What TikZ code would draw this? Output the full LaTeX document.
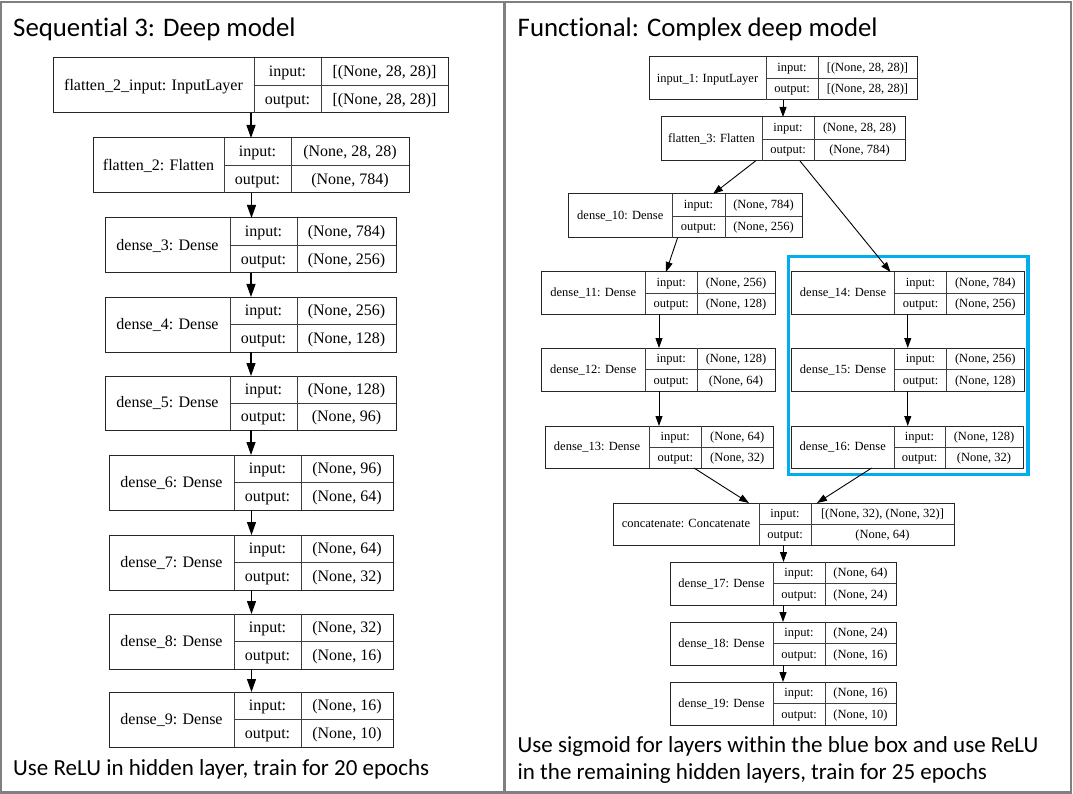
\documentclass[tikz,border=0pt]{standalone}
\usepackage{fontspec}
\setmainfont{Carlito}[Ligatures={NoCommon}]
\newfontfamily\gv{Liberation Serif}
\usetikzlibrary{arrows.meta,fit}
\definecolor{frame}{HTML}{808080}
\definecolor{bluebox}{HTML}{00AEEF}
\newcommand\recsize{16}
\newcommand\rec[8]{%
  \node[rbox, fit={(#2,#6)(#5,#7)}] (#1) {};
  \pgfmathsetmacro\tmpym{(#6+#7)/2}%
  \xdef\rym{\tmpym}\xdef\rname{#1}\xdef\rxa{#3}\xdef\rxb{#4}\xdef\rxB{#5}%
  \xdef\ryA{#6}\xdef\ryB{#7}%
  \draw[rline] (#3,#6) -- (#3,#7) (#4,#6) -- (#4,#7) (#3,\rym) -- (#5,\rym);
  \node[lab] (#1-n) at ({(#2+#3)/2},{\rym+0.3*\recsize}) {#8};
}
\newcommand\io[2]{%
  \node[lab] (\rname-i) at ({(\rxa+\rxb)/2},{(\ryA+\rym)/2+0.3*\recsize}) {input:};
  \node[lab] (\rname-o) at ({(\rxa+\rxb)/2},{(\rym+\ryB)/2+0.3*\recsize}) {output:};
  \node[lab] (\rname-iv) at ({(\rxb+\rxB)/2},{(\ryA+\rym)/2+0.3*\recsize}) {#1};
  \node[lab] (\rname-ov) at ({(\rxb+\rxB)/2},{(\rym+\ryB)/2+0.3*\recsize}) {#2};
}
\tikzset{
  rbox/.style={draw=black!85, line width=1pt, inner sep=0pt, outer sep=0pt},
  rline/.style={draw=black!75, line width=0.9pt},
  lab/.style={anchor=base, inner sep=0pt, font=\gv\fontsize{\recsize}{\recsize}\selectfont},
  larr/.style={draw=black, line width=1.2pt, -{Triangle[length=13pt,width=9pt]}},
  rarr/.style={draw=black, line width=0.9pt, -{Triangle[length=10pt,width=7pt]}},
  title/.style={anchor=base west, inner sep=0pt, font=\fontsize{26.8}{30}\selectfont},
  caption/.style={anchor=base west, inner sep=0pt, font=\fontsize{23}{26}\selectfont},
}
\begin{document}
\begin{tikzpicture}[x=1pt,y=-1pt]
\useasboundingbox (0,0) rectangle (1073,794);
\fill[white] (0,0) rectangle (1073,794);
% frame
\draw[frame, line width=2.3pt] (1.2,2) rectangle (1071,792.5);
\draw[frame, line width=2.2pt] (504.5,2) -- (504.5,792.5);
% titles
\node[title] (t1) at (13,37) {Sequential 3: Deep model};
\node[title] (t2) at (517.5,37) {Functional: Complex deep model};
% ---------- left panel ----------
\renewcommand\recsize{16}
\rec{inl}{53}{254}{321}{448}{58}{113}{flatten\_2\_input: InputLayer}\io{[(None, 28, 28)]}{[(None, 28, 28)]}
\rec{fl2}{93}{224}{291}{409}{138}{193}{flatten\_2: Flatten}\io{(None, 28, 28)}{(None, 784)}
\rec{d3}{105}{230}{297}{396}{218}{273}{dense\_3: Dense}\io{(None, 784)}{(None, 256)}
\rec{d4}{105}{230}{297}{396}{297}{352}{dense\_4: Dense}\io{(None, 256)}{(None, 128)}
\rec{d5}{105}{230}{297}{396}{376}{430}{dense\_5: Dense}\io{(None, 128)}{(None, 96)}
\rec{d6}{109}{234}{301}{393}{455}{510}{dense\_6: Dense}\io{(None, 96)}{(None, 64)}
\rec{d7}{109}{234}{301}{393}{535}{590}{dense\_7: Dense}\io{(None, 64)}{(None, 32)}
\rec{d8}{109}{234}{301}{393}{614}{669}{dense\_8: Dense}\io{(None, 32)}{(None, 16)}
\rec{d9}{109}{234}{301}{393}{692}{747}{dense\_9: Dense}\io{(None, 16)}{(None, 10)}
\foreach \a/\b in {inl/fl2,fl2/d3,d3/d4,d4/d5,d5/d6,d6/d7,d7/d8,d8/d9}
  \draw[larr] ([xshift=0.5pt]\a.south) -- ([xshift=0.5pt]\a.south |- \b.north);
\node[caption] (c1) at (13,775) {Use ReLU in hidden layer, train for 20 epochs};
% ---------- right panel ----------
\renewcommand\recsize{12.5}
\rec{in1}{649}{766}{818}{917}{57}{100}{input\_1: InputLayer}\io{[(None, 28, 28)]}{[(None, 28, 28)]}
\rec{fl3}{661}{762}{814}{905}{117}{161}{flatten\_3: Flatten}\io{(None, 28, 28)}{(None, 784)}
\rec{d10}{568.5}{672}{725}{802}{194}{238}{dense\_10: Dense}\io{(None, 784)}{(None, 256)}
\rec{d11}{541}{645.5}{697}{775}{272}{314}{dense\_11: Dense}\io{(None, 256)}{(None, 128)}
\rec{d12}{541}{645.5}{697}{775}{348}{391}{dense\_12: Dense}\io{(None, 128)}{(None, 64)}
\rec{d13}{545}{649}{701.5}{773}{426}{468}{dense\_13: Dense}\io{(None, 64)}{(None, 32)}
\rec{d14}{791.5}{894.5}{946.5}{1024}{272}{314}{dense\_14: Dense}\io{(None, 784)}{(None, 256)}
\rec{d15}{791.5}{894.5}{946.5}{1024}{348}{391}{dense\_15: Dense}\io{(None, 256)}{(None, 128)}
\rec{d16}{791.5}{894}{945}{1023}{426}{468}{dense\_16: Dense}\io{(None, 128)}{(None, 32)}
\rec{cat}{613}{759}{811}{954}{503}{545}{concatenate: Concatenate}\io{[(None, 32), (None, 32)]}{(None, 64)}
\rec{d17}{670}{773}{825}{896}{562}{605}{dense\_17: Dense}\io{(None, 64)}{(None, 24)}
\rec{d18}{670}{773}{825}{896}{622}{665}{dense\_18: Dense}\io{(None, 24)}{(None, 16)}
\rec{d19}{670}{773}{825}{896}{682}{725}{dense\_19: Dense}\io{(None, 16)}{(None, 10)}
% blue box
\draw[bluebox, line width=3.2pt] (788.2,256.5) rectangle (1028,474.5);
% right arrows
\draw[rarr] (in1.south) -- (in1.south |- fl3.north);
\draw[rarr] ([xshift=-27.5pt]fl3.south) -- ([xshift=27.75pt]d10.north);
\draw[rarr] ([xshift=17pt]fl3.south) -- ([xshift=-17.25pt]d14.north);
\draw[rarr] ([xshift=-7.75pt]d10.south) -- ([xshift=8pt]d11.north);
\draw[rarr] ([xshift=1pt]d11.south) -- ([xshift=1pt]d11.south |- d12.north);
\draw[rarr] ([xshift=1pt]d12.south) -- ([xshift=1pt]d12.south |- d13.north);
\draw[rarr] (d14.south) -- (d14.south |- d15.north);
\draw[rarr] (d15.south) -- (d15.south |- d16.north);
\draw[rarr] ([xshift=35pt]d13.south) -- ([xshift=-34.5pt]cat.north);
\draw[rarr] ([xshift=-35.6pt]d16.south) -- ([xshift=33.5pt]cat.north);
\draw[rarr] (cat.south) -- (cat.south |- d17.north);
\draw[rarr] (d17.south) -- (d17.south |- d18.north);
\draw[rarr] (d18.south) -- (d18.south |- d19.north);
\node[caption] (c2) at (517.5,752) {Use sigmoid for layers within the blue box and use ReLU};
\node[caption] (c3) at (517.5,779) {in the remaining hidden layers, train for 25 epochs};
\end{tikzpicture}
\end{document}
